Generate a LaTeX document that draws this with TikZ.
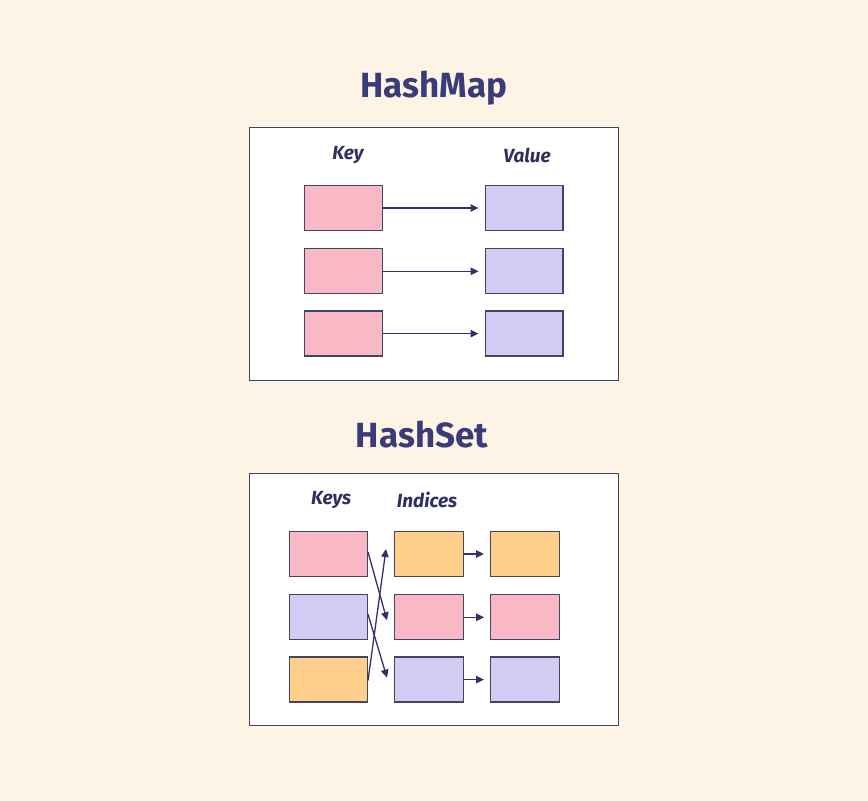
\documentclass[tikz,border=0pt]{standalone}
\usepackage{fontspec}
\setmainfont{Fira Sans}
\usepackage{xcolor}
\usetikzlibrary{positioning, arrows.meta, calc}

\definecolor{bgcream}{HTML}{FEF4E6}
\definecolor{inkblue}{HTML}{3B3B7A}
\definecolor{edgegray}{HTML}{44445E}
\definecolor{keypink}{HTML}{F9B9C4}
\definecolor{valpurple}{HTML}{D0CCF4}
\definecolor{idxorange}{HTML}{FFD08B}

\begin{document}
\begin{tikzpicture}[
        x=1pt, y=-1pt,
        node distance=17pt,
        title/.style  ={font=\fontsize{35}{40}\selectfont\bfseries, text=inkblue},
        frame/.style  ={draw=edgegray, line width=1.4pt, fill=white,
                        minimum width=369pt, inner sep=0pt},
        cell/.style   ={draw=edgegray, line width=1.3pt, minimum height=45pt,
                        minimum width=77.7pt, inner sep=0pt},
        slim/.style   ={cell, minimum width=68.7pt},
        lbl/.style    ={font=\fontsize{19}{22}\selectfont\bfseries\itshape, text=inkblue!80!black},
        arr/.style    ={-{Triangle[length=8pt, width=7.5pt]}, line width=1.3pt, draw=inkblue!85!black}
    ]
      \useasboundingbox[fill=bgcream] (0,0) rectangle (868,801);

      % ===== HASHMAP =====
      \node[title]                              (maptitle) at (434,88)  {HashMap};
      \node[frame, minimum height=253pt]        (mapframe) at (434,254) {};
      \node[cell, fill=keypink]                 (k1) at (343.5,208) {};
      \node[cell, fill=keypink, below=of k1]    (k2) {};
      \node[cell, fill=keypink, below=16pt of k2] (k3) {};
      \node[cell, fill=valpurple, right=101.5pt of k1] (v1) {};
      \node[cell, fill=valpurple, right=101.5pt of k2] (v2) {};
      \node[cell, fill=valpurple, right=101.5pt of k3] (v3) {};
      \node[lbl]                                (keylbl) at (348,155) {Key};
      \node[lbl]                                (vallbl) at (527,155) {Value};
      \draw[arr, shorten >=6pt] (k1) -- (v1);
      \draw[arr, shorten >=6pt] (k2) -- (v2);
      \draw[arr, shorten >=6pt] (k3) -- (v3);

      % ===== HASHSET =====
      \node[title]                              (settitle) at (422,435) {HashSet};
      \node[frame, minimum height=252pt]        (setframe) at (434,599.5) {};
      \node[cell, fill=keypink]                 (ks1) at (328.5,554) {};
      \node[cell, fill=valpurple, below=of ks1] (ks2) {};
      \node[cell, fill=idxorange, below=16pt of ks2] (ks3) {};
      \node[slim, fill=idxorange, right=26pt of ks1] (ix1) {};
      \node[slim, fill=keypink,   right=26pt of ks2] (ix2) {};
      \node[slim, fill=valpurple, right=26pt of ks3] (ix3) {};
      \node[slim, fill=idxorange, right=26pt of ix1] (out1) {};
      \node[slim, fill=keypink,   right=26pt of ix2] (out2) {};
      \node[slim, fill=valpurple, right=26pt of ix3] (out3) {};
      \node[lbl]                                (keyslbl) at (331,500) {Keys};
      \node[lbl]                                (idxlbl)  at (427,500) {Indices};

      % keys cross over to their indices
      \draw[arr] ([yshift=2pt]ks1.east)  -- ([xshift=-7pt, yshift=-3pt]ix2.west);
      \draw[arr] ([yshift=3pt]ks2.east)  -- ([xshift=-7pt, yshift=2pt]ix3.west);
      \draw[arr] ([yshift=-1pt]ks3.east) -- ([xshift=-8pt, yshift=5pt]ix1.west);
      \draw[arr, shorten >=6pt] (ix1) -- (out1);
      \draw[arr, shorten >=6pt] (ix2) -- (out2);
      \draw[arr, shorten >=6pt] (ix3) -- (out3);
    \end{tikzpicture}
\end{document}
